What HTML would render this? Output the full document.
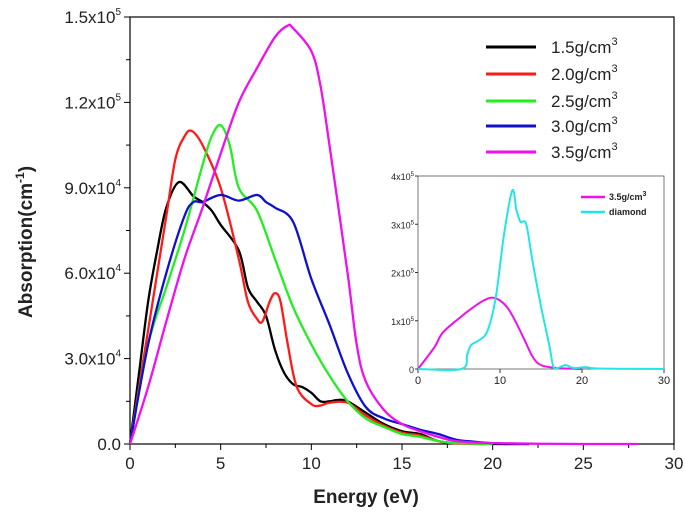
<!DOCTYPE html>
<html><head><meta charset="utf-8"><style>
body{margin:0;background:#fff;}
svg text{font-family:"Liberation Sans",Arial,sans-serif;}
</style></head><body>
<svg id="chart" width="685" height="518" xmlns="http://www.w3.org/2000/svg">
<g id="main"></g>
<g id="inset"></g>
</svg>
<script>
const xTicks=[0,5,10,15,20,25,30];
const yTicks=[0,30000,60000,90000,120000,150000];
const yTickMant=["0.0","3.0","6.0","9.0","1.2","1.5"];
const yTickExp=["","4","4","4","5","5"];
const seriesNames=["1.5g/cm","2.0g/cm","2.5g/cm","3.0g/cm","3.5g/cm"];
const seriesColors=["#000000","#ff1a1a","#22ee22","#1010cc","#ee10ee"];
const e15=[0,0.5,1,1.5,2,2.7,3.5,4,4.5,5,6,6.5,7,7.5,8,8.5,9,9.5,10,10.5,11,11.5,12,13,14,15,16,17,18,20,22];
const v15=[0,25000,50000,68000,83000,92000,87000,85000,82000,77000,68000,55000,50000,45000,33000,25000,21000,20000,18000,15000,15000,15500,15000,11000,7000,4500,3500,1000,300,0,0];
const e20=[0,1,2,2.5,3,3.4,4,5,6,6.5,7,7.3,7.7,8,8.3,8.7,9.2,10,10.5,11,12,13,14,15,16,17,18,20];
const v20=[0,40000,80000,100000,108000,110000,105000,90000,65000,50000,44000,43000,50000,53000,50000,35000,20000,14000,13500,14500,14500,10000,6500,4000,3000,1000,200,0];
const e25=[0,1,2,3,4,4.5,5,5.5,6,7,8,9,10,11,12,13,14,15,16,17,18,20];
const v25=[0,35000,55000,75000,98000,108000,112000,105000,90000,82000,65000,48000,35000,24000,15000,9000,6000,3500,2500,1000,300,0];
const e30=[0,1,2,3,3.5,4,5,6,7,7.5,8,9,10,11,12,13,14,15,16,17,18,19,20,22];
const v30=[0,35000,60000,80000,85000,85000,87500,85500,87500,85000,83000,78000,58000,42000,25000,13000,9000,7000,5000,3500,1500,800,300,0];
const e35=[0,1,2,3,4,5,6,7,8,8.7,9,10,10.5,11,12,12.5,13,14,15,16,17,18,20,25,28];
const v35=[0,20000,43000,65000,83000,102000,120000,132000,143000,147000,146000,138000,126000,105000,60000,35000,22000,12000,7000,4500,2500,1000,300,0,0];
const insetXTicks=[0,10,20,30];
const insetYTicks=[0,100000,200000,300000,400000];
const insetYMant=["0","1","2","3","4"];
const insetNames=["3.5g/cm","diamond"];
const insetColors=["#ee10ee","#22e6e6"];
const ie1=[0,2,3,5,6.5,8,9,10,11,12,13,14,15,17,20];
const iv1=[0,45000,75000,105000,125000,142000,148000,142000,125000,95000,60000,25000,8000,2000,0];
const ie2=[0,5.3,6,6.5,7.5,8.5,9.5,10.5,11.5,12,12.5,13.2,14,15,16,16.5,17,18,19,20.5,22,30];
const iv2=[0,0,30000,50000,60000,80000,150000,280000,370000,330000,305000,300000,220000,130000,50000,5000,2000,8000,2000,4000,1000,0];

const NS="http://www.w3.org/2000/svg";
function mk(parent,tag,attrs){const el=document.createElementNS(NS,tag);for(const k in attrs)el.setAttribute(k,attrs[k]);parent.appendChild(el);return el;}
function smooth(pts){let d="M"+pts[0][0].toFixed(2)+","+pts[0][1].toFixed(2);
for(let i=0;i<pts.length-1;i++){const p0=pts[Math.max(i-1,0)],p1=pts[i],p2=pts[i+1],p3=pts[Math.min(i+2,pts.length-1)];
const c1=[p1[0]+(p2[0]-p0[0])/6,p1[1]+(p2[1]-p0[1])/6],c2=[p2[0]-(p3[0]-p1[0])/6,p2[1]-(p3[1]-p1[1])/6];
d+="C"+c1[0].toFixed(2)+","+c1[1].toFixed(2)+" "+c2[0].toFixed(2)+","+c2[1].toFixed(2)+" "+p2[0].toFixed(2)+","+p2[1].toFixed(2);}return d;}

// main
const M=document.getElementById('main');
const X0=130,X1=674,Y0=444,Y1=17;
const sx=v=>X0+(v/30)*(X1-X0), sy=v=>Y0-(v/150000)*(Y0-Y1);
const frame=mk(M,'rect',{x:X0,y:Y1,width:X1-X0,height:Y0-Y1,fill:'none',stroke:'#000','stroke-width':1.2});

xTicks.forEach((t,i)=>{mk(M,'line',{x1:sx(t),x2:sx(t),y1:Y0,y2:Y0+6,stroke:'#000'});
 if(i<xTicks.length-1)mk(M,'line',{x1:sx(t+2.5),x2:sx(t+2.5),y1:Y0,y2:Y0+4,stroke:'#000'});
 const tx=mk(M,'text',{x:sx(t),y:Y0+25,'text-anchor':'middle','font-size':17,fill:'#222'});tx.textContent=t;
 });
yTicks.forEach((t,i)=>{mk(M,'line',{x1:X0-6,x2:X0,y1:sy(t),y2:sy(t),stroke:'#000'});
 if(i<yTicks.length-1)mk(M,'line',{x1:X0-4,x2:X0,y1:sy(t+15000),y2:sy(t+15000),stroke:'#000'});
 const tx=mk(M,'text',{x:X0-9,y:sy(t)+6,'text-anchor':'end','font-size':17,fill:'#222'});
 
 if(yTickExp[i]){tx.innerHTML=yTickMant[i]+'x10<tspan dy="-8" font-size="10">'+yTickExp[i]+'</tspan>';}else tx.textContent=yTickMant[i];});
const yt=mk(M,'text',{x:0,y:0,transform:'translate(32,242) rotate(-90)','text-anchor':'middle','font-size':19,'font-weight':'bold',fill:'#222'});
yt.innerHTML='Absorption(cm<tspan dy="-8" font-size="12">-1</tspan><tspan dy="8">)</tspan>';

const xt=mk(M,'text',{x:366,y:503,'text-anchor':'middle','font-size':19,'font-weight':'bold',fill:'#222'});xt.textContent='Energy (eV)';

const E=[e15,e20,e25,e30,e35],V=[v15,v20,v25,v30,v35];
for(let s=0;s<5;s++){const p=mk(M,'path',{d:smooth(E[s].map((e,i)=>[sx(e),sy(V[s][i])])),fill:'none',stroke:seriesColors[s],'stroke-width':2.3});
 }
const legY=[47,74,101,126,152];
for(let s=0;s<5;s++){const g=mk(M,'g',{});
 mk(g,'line',{x1:486,x2:536,y1:legY[s],y2:legY[s],stroke:seriesColors[s],'stroke-width':3});
 const t=mk(g,'text',{x:551,y:legY[s]+6,'font-size':17,fill:'#222'});t.innerHTML=seriesNames[s]+'<tspan dy="-8" font-size="11">3</tspan>';}

// inset
const I=document.getElementById('inset');
const IX0=418,IX1=664,IY0=369,IY1=176;
const ix=v=>IX0+(v/30)*(IX1-IX0), iy=v=>IY0-(v/400000)*(IY0-IY1);
const f2=mk(I,'rect',{x:IX0,y:IY1,width:IX1-IX0,height:IY0-IY1,fill:'#fff',stroke:'#555','stroke-width':0.8});

insetXTicks.forEach(t=>{mk(I,'line',{x1:ix(t),x2:ix(t),y1:IY0,y2:IY0+4,stroke:'#333'});
 const tx=mk(I,'text',{x:ix(t),y:IY0+15,'text-anchor':'middle','font-size':11,fill:'#222'});tx.textContent=t;});
insetYTicks.forEach((t,i)=>{mk(I,'line',{x1:IX0-3,x2:IX0,y1:iy(t),y2:iy(t),stroke:'#333'});
 const tx=mk(I,'text',{x:IX0-4,y:iy(t)+4,'text-anchor':'end','font-size':9,fill:'#222'});
 if(i>0)tx.innerHTML=insetYMant[i]+'x10<tspan dy="-4" font-size="6">5</tspan>';else tx.textContent='0';});
const IE=[ie1,ie2],IV=[iv1,iv2];
for(let s=0;s<2;s++){const p=mk(I,'path',{d:smooth(IE[s].map((e,i)=>[ix(e),iy(IV[s][i])])),fill:'none',stroke:insetColors[s],'stroke-width':2});
 }
const iLegY=[197,212];
for(let s=0;s<2;s++){const g=mk(I,'g',{});
 mk(g,'line',{x1:581,x2:605,y1:iLegY[s],y2:iLegY[s],stroke:insetColors[s],'stroke-width':2.5});
 const t=mk(g,'text',{x:609,y:iLegY[s]+3,'font-size':9,'font-weight':'bold',fill:'#222'});
 t.innerHTML=insetNames[s]+(s===0?'<tspan dy="-4" font-size="7">3</tspan>':'');}
</script>
</body></html>
